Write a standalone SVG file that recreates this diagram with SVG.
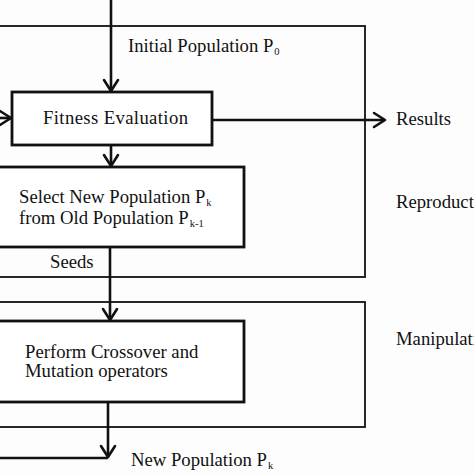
<svg xmlns="http://www.w3.org/2000/svg" width="474" height="474" viewBox="0 0 474 474">
<style>
.bg{fill:#fdfdfd}
.outer{fill:none;stroke:#111;stroke-width:1.8}
.box{fill:#fff;stroke:#111;stroke-width:2.8}
.ln{fill:none;stroke:#111;stroke-width:2.6}
text{font-family:"Liberation Serif","Times New Roman",serif;font-size:18.7px;fill:#111}
.sub{font-size:10.5px}
</style>
<defs>
<marker id="chev" markerUnits="userSpaceOnUse" markerWidth="16" markerHeight="20" viewBox="-13 -10 16 20" refX="0" refY="0" orient="auto">
<path d="M-11,-7 L0,0 L-11,7" fill="none" stroke="#111" stroke-width="2.6" stroke-linejoin="round" stroke-linecap="round"/>
</marker>
</defs>
<rect class="bg" x="0" y="0" width="474" height="474"/>
<g id="reproduction-stage">
<rect class="outer" x="-10" y="26" width="375" height="251"/>
<text x="396" y="208">Reproduction</text>
</g>
<g id="manipulation-stage">
<rect class="outer" x="-10" y="302" width="375" height="125"/>
<text x="396" y="345">Manipulation</text>
</g>
<g id="connectors">
<line class="ln" x1="111" y1="0" x2="111" y2="91" marker-end="url(#chev)"/>
<line class="ln" x1="-5" y1="118" x2="11" y2="118" marker-end="url(#chev)"/>
<line class="ln" x1="212" y1="120" x2="385" y2="120" marker-end="url(#chev)"/>
<line class="ln" x1="111" y1="145" x2="111" y2="166" marker-end="url(#chev)"/>
<line class="ln" x1="110" y1="247" x2="110" y2="320" marker-end="url(#chev)"/>
<line class="ln" x1="108" y1="402" x2="108" y2="457" marker-end="url(#chev)"/>
<line class="ln" x1="-5" y1="458" x2="108" y2="458"/>
</g>
<g id="fitness">
<rect class="box" x="12" y="92" width="200" height="53"/>
<text x="43" y="124" textLength="145" lengthAdjust="spacing">Fitness Evaluation</text>
</g>
<g id="select">
<rect class="box" x="-10" y="167" width="254" height="80"/>
<text x="19" y="203">Select New Population P<tspan class="sub" dx="1" dy="3">k</tspan></text>
<text x="19" y="224">from Old Population P<tspan class="sub" dx="1" dy="3">k-1</tspan></text>
</g>
<g id="crossover">
<rect class="box" x="-10" y="321" width="254" height="81"/>
<text x="25" y="358">Perform Crossover and</text>
<text x="25" y="377">Mutation operators</text>
</g>
<g id="labels">
<text x="128" y="52">Initial Population P<tspan class="sub" dx="1" dy="3">0</tspan></text>
<text x="396" y="125">Results</text>
<text x="50" y="268">Seeds</text>
<text x="131" y="466">New Population P<tspan class="sub" dx="1" dy="3">k</tspan></text>
</g>
</svg>
